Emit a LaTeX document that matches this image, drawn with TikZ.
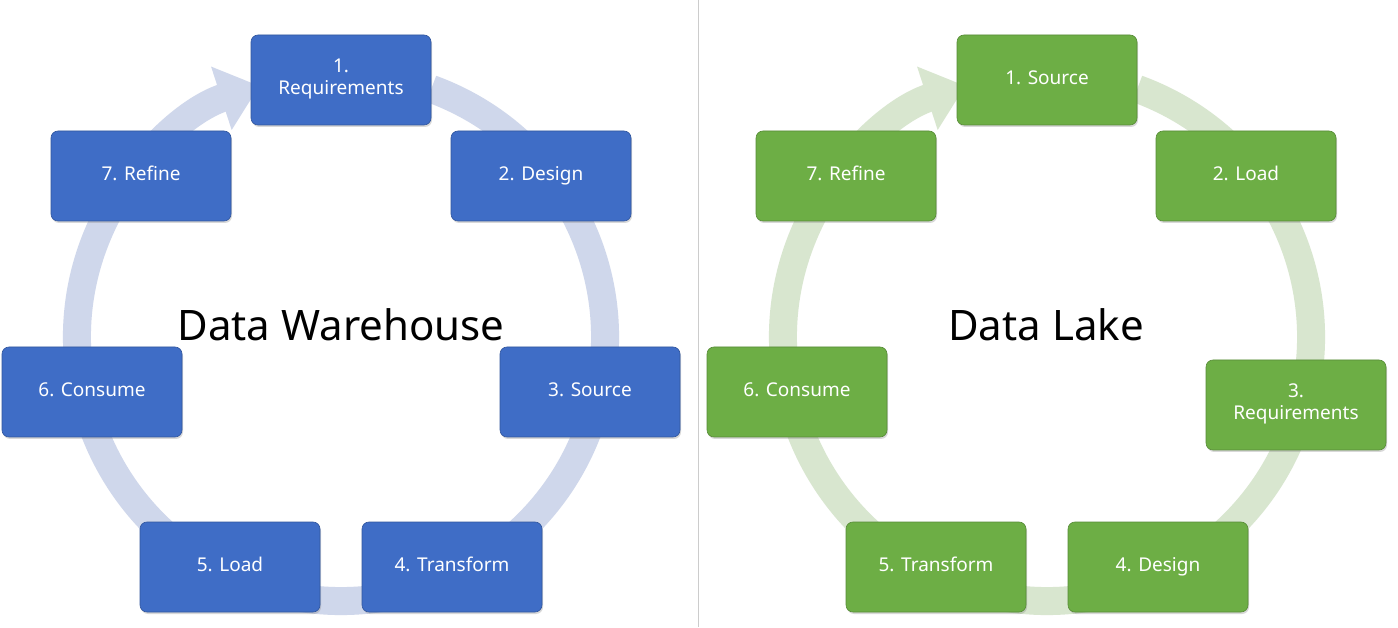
\documentclass[tikz,border=0pt]{standalone}
\usepackage{fontspec}
\setmainfont{Noto Sans}
\usetikzlibrary{arrows.meta,shadows}
\definecolor{bl}{HTML}{3F6DC6}
\definecolor{bll}{HTML}{CFD7EB}
\definecolor{gr}{HTML}{6DAE45}
\definecolor{grl}{HTML}{D8E6CF}
\begin{document}
\begin{tikzpicture}[x=1pt,y=1pt,
  box/.style={draw=#1!80!black,line width=0.6pt,fill=#1,rounded corners=7pt,minimum width=180pt,minimum height=90pt,
    text=white,font=\fontsize{19}{22}\selectfont\strut,align=center,drop shadow={opacity=0.3,shadow xshift=1pt,shadow yshift=-2pt}},
  ring/.style={line width=28pt,draw=#1,-{Triangle[width=64pt,length=40pt]}},
  title/.style={font=\fontsize{42}{48}\selectfont}]
\useasboundingbox (0,0) rectangle (1398,627);
\fill[white] (0,0) rectangle (1398,627);
\draw[gray!40,line width=1pt] (698,0) -- (698,627);
% left
\coordinate (cl) at (341,290);
\draw[ring=bll] ([shift={(70:264)}]cl) arc[start angle=70,end angle=-252,radius=264];
\node[box=bl] (l1) at (341,547) {1.\\Requirements};
\node[box=bl] (l2) at (541,451) {2. Design};
\node[box=bl] (l3) at (590,235) {3. Source};
\node[box=bl] (l4) at (452,60) {4. Transform};
\node[box=bl] (l5) at (230,60) {5. Load};
\node[box=bl] (l6) at (92,235) {6. Consume};
\node[box=bl] (l7) at (141,451) {7. Refine};
\node[title] (tl) at (341,302) {Data Warehouse};
% right
\coordinate (cr) at (1047,290);
\draw[ring=grl] ([shift={(70:264)}]cr) arc[start angle=70,end angle=-252,radius=264];
\node[box=gr] (r1) at (1047,547) {1. Source};
\node[box=gr] (r2) at (1246,451) {2. Load};
\node[box=gr] (r3) at (1296,222) {3.\\Requirements};
\node[box=gr] (r4) at (1158,60) {4. Design};
\node[box=gr] (r5) at (936,60) {5. Transform};
\node[box=gr] (r6) at (797,235) {6. Consume};
\node[box=gr] (r7) at (846,451) {7. Refine};
\node[title] (tr) at (1046,302) {Data Lake};
\end{tikzpicture}
\end{document}
